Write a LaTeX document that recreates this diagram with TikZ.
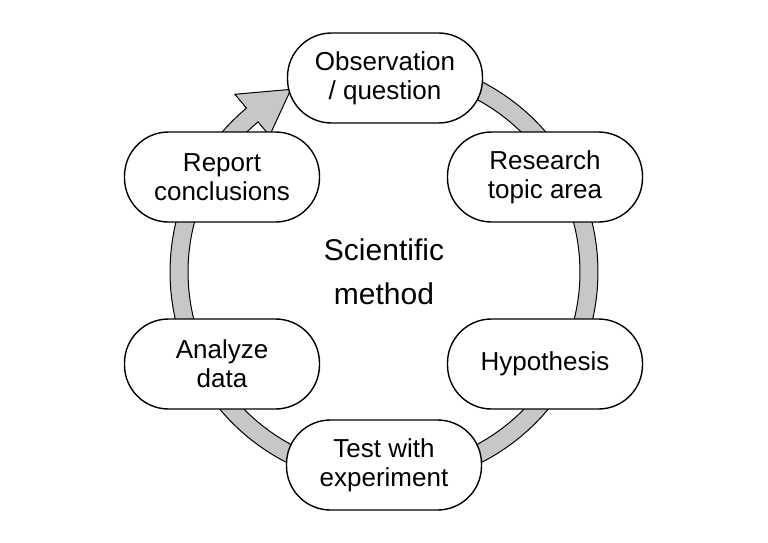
\documentclass[tikz,border=0pt]{standalone}
\usepackage{fontspec}
\setmainfont{Liberation Sans}
\begin{document}
\begin{tikzpicture}[x=1pt,y=-1pt,
  stepbox/.style={draw=black,line width=1.4pt,fill=white,rounded corners=44pt,minimum width=195pt,minimum height=90pt,align=center,font=\fontsize{26}{29}\selectfont,inner sep=0pt}]
\useasboundingbox (0,0) rectangle (768,543);
\fill[white] (0,0) rectangle (768,543);
\filldraw[fill=black!22,draw=black,line width=1pt]
  plot[domain=-80:230,samples=120] ({384+214*cos(\x)},{272+214*sin(\x)})
  -- ({384+232*cos(230)},{272+232*sin(230)})
  -- ({384+205*cos(243)},{272+205*sin(243)})
  -- ({384+178*cos(230)},{272+178*sin(230)})
  -- plot[domain=230:-80,samples=120] ({384+196*cos(\x)},{272+196*sin(\x)}) -- cycle;
\node[stepbox] (obs) at (385,78) {Observation\\/ question};
\node[stepbox] (res) at (545,177) {Research\\topic area};
\node[stepbox] (hyp) at (545,364) {Hypothesis};
\node[stepbox] (tes) at (384,465) {Test with\\experiment};
\node[stepbox] (ana) at (222,364) {Analyze\\data};
\node[stepbox] (rep) at (222,177) {Report\\conclusions};
\node[align=center,font=\fontsize{30}{44}\selectfont] (t) at (384,272) {Scientific\\method};
\end{tikzpicture}
\end{document}
